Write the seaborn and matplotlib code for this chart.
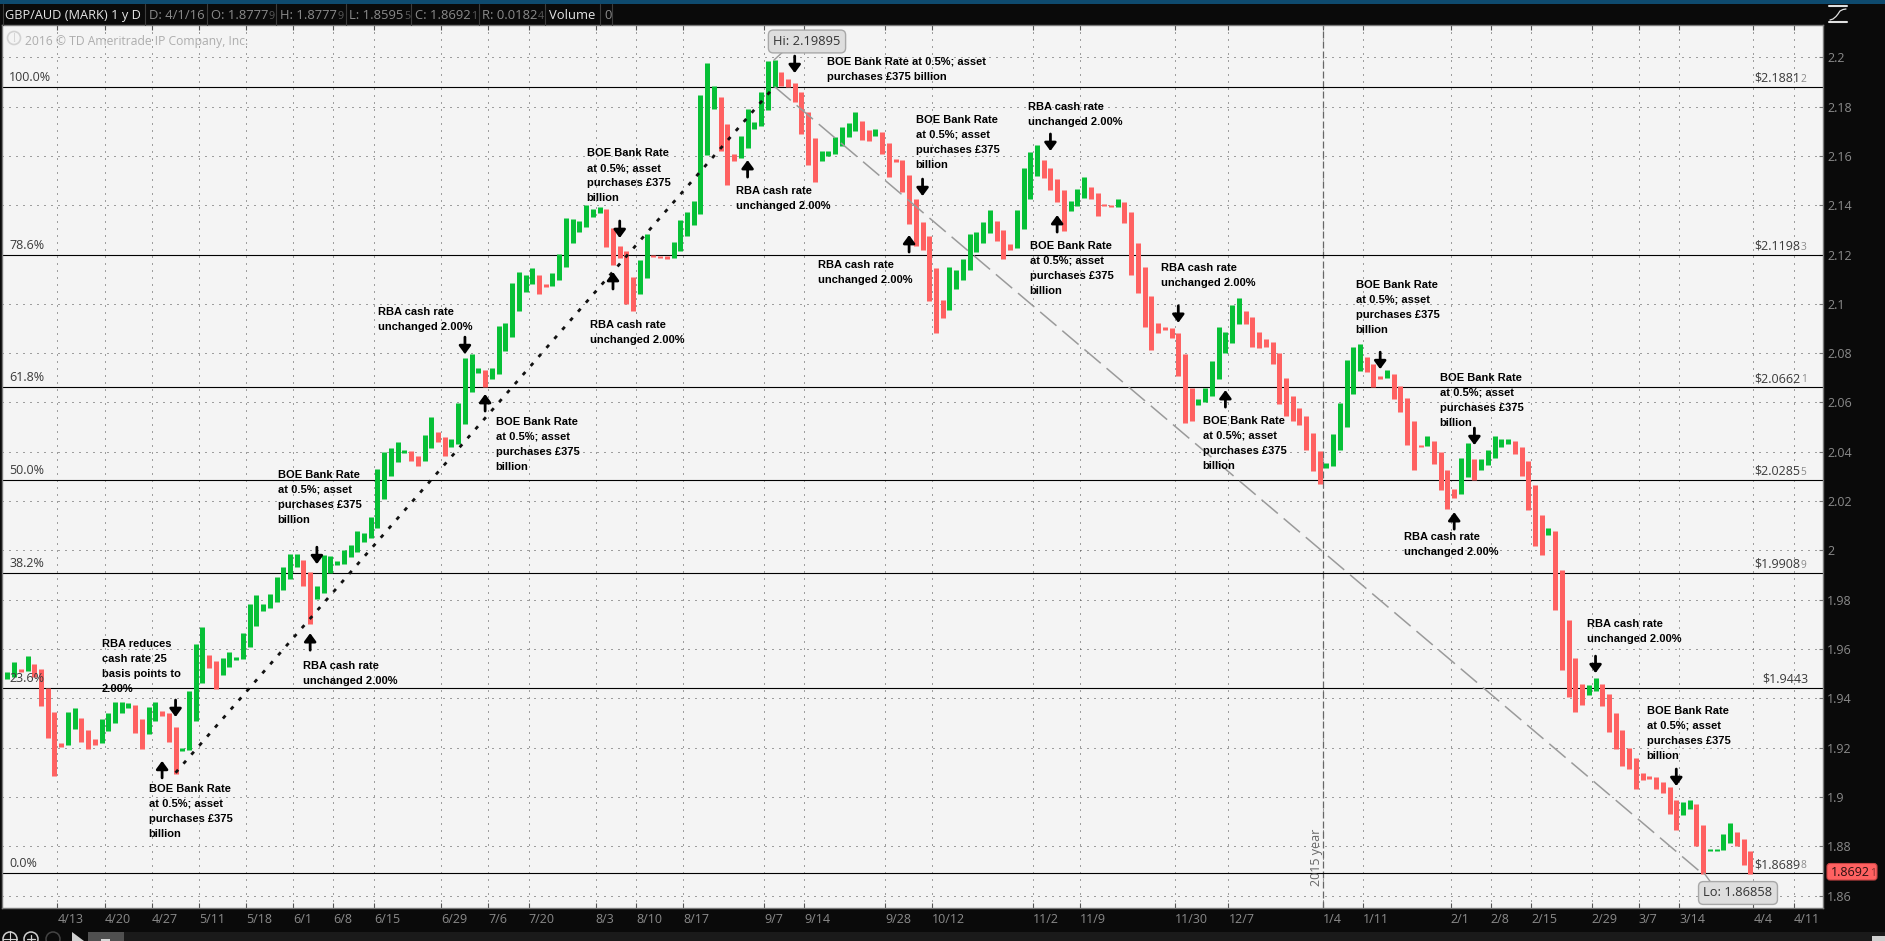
import numpy as np
import pandas as pd
import matplotlib
matplotlib.use('Agg')
import matplotlib.pyplot as plt
from matplotlib.lines import Line2D
from matplotlib.patches import Rectangle, Circle, Polygon, FancyBboxPatch
from matplotlib.transforms import IdentityTransform
import seaborn as sns

W, H = 1885, 941

# daily range bars (GBP/AUD)
bar_tops = [
    1.9508, 1.9547, 1.9518, 1.9571, 1.9541, 1.9518, 1.9443, 1.9344, 1.9218, 1.9344,
    1.9360, 1.9320, 1.9271, 1.9234, 1.9316, 1.9340, 1.9385, 1.9385, 1.9381, 1.9372,
    1.9316, 1.9364, 1.9385, 1.9348, 1.9340, 1.9283, 1.9198, 1.9429, 1.9620, 1.9689,
    1.9575, 1.9551, 1.9563, 1.9587, 1.9567, 1.9665, 1.9782, 1.9819, 1.9782, 1.9823,
    1.9892, 1.9932, 1.9985, 1.9985, 1.9961, 1.9912, 1.9855, 1.9981, 1.9977, 1.9957,
    2.0001, 2.0022, 2.0078, 2.0070, 2.0135, 2.0330, 2.0399, 2.0415, 2.0439, 2.0407,
    2.0403, 2.0383, 2.0468, 2.0541, 2.0480, 2.0460, 2.0452, 2.0598, 2.0780, 2.0796,
    2.0740, 2.0732, 2.0740, 2.0910, 2.0922, 2.1084, 2.1129, 2.1117, 2.1145, 2.1117,
    2.1080, 2.1125, 2.1202, 2.1348, 2.1344, 2.1336, 2.1401, 2.1385, 2.1393, 2.1385,
    2.1308, 2.1235, 2.1214, 2.1109, 2.1178, 2.1283, 2.1197, 2.1195, 2.1194, 2.1251,
    2.1340, 2.1373, 2.1417, 2.1847, 2.1977, 2.1884, 2.1839, 2.1730, 2.1608, 2.1681,
    2.1790, 2.1738, 2.1859, 2.1985, 2.1989, 2.1940, 2.1912, 2.1896, 2.1859, 2.1778,
    2.1673, 2.1620, 2.1620, 2.1677, 2.1717, 2.1734, 2.1778, 2.1742, 2.1705, 2.1709,
    2.1697, 2.1652, 2.1588, 2.1583, 2.1523, 2.1425, 2.1332, 2.1275, 2.1145, 2.1015,
    2.1149, 2.1137, 2.1182, 2.1283, 2.1291, 2.1332, 2.1381, 2.1336, 2.1299, 2.1243,
    2.1381, 2.1551, 2.1616, 2.1644, 2.1583, 2.1551, 2.1506, 2.1462, 2.1417, 2.1466,
    2.1514, 2.1474, 2.1450, 2.1405, 2.1401, 2.1425, 2.1413, 2.1372, 2.1247, 2.1149,
    2.1032, 2.0922, 2.0906, 2.0902, 2.0882, 2.0796, 2.0658, 2.0614, 2.0658, 2.0768,
    2.0906, 2.0886, 2.0995, 2.1024, 2.0971, 2.0947, 2.0886, 2.0857, 2.0845, 2.0800,
    2.0699, 2.0626, 2.0577, 2.0545, 2.0476, 2.0403, 2.0354, 2.0472, 2.0598, 2.0772,
    2.0825, 2.0837, 2.0784, 2.0756, 2.0707, 2.0732, 2.0715, 2.0667, 2.0618, 2.0525,
    2.0427, 2.0464, 2.0443, 2.0399, 2.0326, 2.0249, 2.0374, 2.0435, 2.0370, 2.0370,
    2.0407, 2.0464, 2.0452, 2.0452, 2.0443, 2.0419, 2.0362, 2.0265, 2.0144, 2.0090,
    2.0078, 1.9920, 1.9717, 1.9563, 1.9458, 1.9453, 1.9481, 1.9458, 1.9417, 1.9340,
    1.9271, 1.9197, 1.9157, 1.9096, 1.9084, 1.9080, 1.9060, 1.9039, 1.8987, 1.8979,
    1.8987, 1.8970, 1.8885, 1.8787, 1.8787, 1.8849, 1.8893, 1.8857, 1.8829, 1.8780,
]
bar_bottoms = [
    1.9478, 1.9487, 1.9508, 1.9510, 1.9487, 1.9368, 1.9239, 1.9084, 1.9202, 1.9210,
    1.9275, 1.9222, 1.9194, 1.9210, 1.9218, 1.9267, 1.9299, 1.9340, 1.9360, 1.9259,
    1.9194, 1.9255, 1.9307, 1.9328, 1.9222, 1.9092, 1.9186, 1.9190, 1.9307, 1.9462,
    1.9522, 1.9437, 1.9494, 1.9527, 1.9555, 1.9559, 1.9608, 1.9693, 1.9754, 1.9766,
    1.9790, 1.9839, 1.9884, 1.9932, 1.9855, 1.9701, 1.9802, 1.9827, 1.9908, 1.9940,
    1.9944, 1.9973, 1.9993, 2.0034, 2.0050, 2.0090, 2.0208, 2.0301, 2.0358, 2.0395,
    2.0362, 2.0342, 2.0362, 2.0415, 2.0439, 2.0383, 2.0419, 2.0431, 2.0512, 2.0642,
    2.0719, 2.0661, 2.0695, 2.0715, 2.0809, 2.0865, 2.0971, 2.1048, 2.1080, 2.1040,
    2.1068, 2.1072, 2.1097, 2.1149, 2.1247, 2.1291, 2.1312, 2.1352, 2.1368, 2.1230,
    2.1157, 2.1186, 2.0999, 2.0971, 2.1040, 2.1105, 2.1190, 2.1186, 2.1182, 2.1186,
    2.1214, 2.1275, 2.1320, 2.1364, 2.1604, 2.1790, 2.1620, 2.1482, 2.1579, 2.1592,
    2.1632, 2.1709, 2.1721, 2.1786, 2.1880, 2.1884, 2.1880, 2.1819, 2.1689, 2.1563,
    2.1494, 2.1579, 2.1600, 2.1608, 2.1640, 2.1677, 2.1701, 2.1665, 2.1661, 2.1681,
    2.1608, 2.1514, 2.1575, 2.1454, 2.1324, 2.1235, 2.1218, 2.1011, 2.0882, 2.0942,
    2.0975, 2.1060, 2.1097, 2.1137, 2.1210, 2.1247, 2.1287, 2.1255, 2.1182, 2.1218,
    2.1226, 2.1303, 2.1425, 2.1519, 2.1510, 2.1462, 2.1413, 2.1295, 2.1377, 2.1397,
    2.1429, 2.1425, 2.1356, 2.1397, 2.1393, 2.1393, 2.1328, 2.1117, 2.1044, 2.0906,
    2.0813, 2.0882, 2.0894, 2.0861, 2.0707, 2.0516, 2.0525, 2.0590, 2.0602, 2.0626,
    2.0695, 2.0800, 2.0841, 2.0918, 2.0918, 2.0825, 2.0821, 2.0825, 2.0756, 2.0594,
    2.0545, 2.0525, 2.0508, 2.0407, 2.0322, 2.0269, 2.0334, 2.0342, 2.0407, 2.0500,
    2.0634, 2.0727, 2.0723, 2.0661, 2.0695, 2.0699, 2.0614, 2.0561, 2.0427, 2.0326,
    2.0419, 2.0423, 2.0350, 2.0245, 2.0168, 2.0212, 2.0228, 2.0297, 2.0285, 2.0326,
    2.0346, 2.0374, 2.0419, 2.0431, 2.0391, 2.0302, 2.0163, 2.0018, 1.9981, 2.0062,
    1.9757, 1.9514, 1.9404, 1.9344, 1.9372, 1.9413, 1.9430, 1.9368, 1.9263, 1.9193,
    1.9124, 1.9113, 1.9032, 1.9068, 1.9073, 1.9032, 1.9015, 1.8930, 1.8865, 1.8926,
    1.8951, 1.8800, 1.8686, 1.8780, 1.8780, 1.8784, 1.8812, 1.8800, 1.8723, 1.8689,
]
bar_dirs = (
    "GGRGRRRRRG" "GRRRGGGGGR" "RGGRRRGGGG" "RRGGGGGGGG" "GGGGRRGGGG"
    "GGGGGGGGGG" "RRGGRRGGGG" "GRGGGGGGGR" "RGGGGGGGGR" "RRRRGGRRRG"
    "GGGGGGRRRG" "GGGGGRRRRR" "RGGGGGGRRG" "RRRRRRRRRR" "GGGGGGGRRR"
    "GGGGRRRRGG" "GRRRRGRRRR" "RRRRRRRGGG" "GGGGRRRRRR" "RRRRRRGGGG"
    "GGRRRGRRRR" "RGRRRRGGRG" "GGGGRRRRRG" "RRRRRGGRRR" "RRRRRRRRRG"
    "GRRGGGGRRR"
)

# x axis: label and the bar it sits on
tick_labels = ['4/13', '4/20', '4/27', '5/11', '5/18', '6/1', '6/8', '6/15', '6/29', '7/6', '7/20',
               '8/3', '8/10', '8/17', '9/7', '9/14', '9/28', '10/12', '11/2', '11/9', '11/30', '12/7',
               '1/4', '1/11', '2/1', '2/8', '2/15', '2/29', '3/7', '3/14', '4/4', '4/11']
tick_bars = [7, 14, 21, 28, 35, 42, 48, 54, 64, 71, 77, 87, 93, 100, 112, 118, 130, 137, 152, 159,
             173, 181, 195, 201, 214, 220, 226, 235, 242, 248, 259, 265]
y_ticks = [2.2, 2.18, 2.16, 2.14, 2.12, 2.1, 2.08, 2.06, 2.04, 2.02, 2.0, 1.98, 1.96, 1.94, 1.92, 1.9, 1.88, 1.86]
y_tick_labels = ['2.2', '2.18', '2.16', '2.14', '2.12', '2.1', '2.08', '2.06', '2.04', '2.02', '2',
                 '1.98', '1.96', '1.94', '1.92', '1.9', '1.88', '1.86']

# fibonacci levels
fib_pcts = ['100.0%', '78.6%', '61.8%', '50.0%', '38.2%', '23.6%', '0.0%']
fib_levels = [2.18812, 2.11983, 2.06621, 2.02855, 1.99089, 1.9443, 1.86898]
fib_main = ['$2.1881', '$2.1198', '$2.0662', '$2.0285', '$1.9908', '$1.9443', '$1.8689']
fib_small = ['2', '3', '1', '5', '9', '', '8']

# trend lines between the swing points
up_leg_bars = [25, 114]
up_leg_prices = [1.9098, 2.18812]
down_leg_bars = [114, 252]
down_leg_prices = [2.18812, 1.86858]

# arrows: bar and price at the tip
down_arrow_bars = [25, 46, 68, 91, 117, 136, 155, 174, 204, 218, 236, 248]
down_arrow_tips = [1.9324, 1.9944, 2.0796, 2.1267, 2.1936, 2.1437, 2.1620, 2.0923, 2.0735, 2.0427, 1.9502, 1.9044]
up_arrow_bars = [23, 45, 71, 90, 110, 134, 156, 181, 215]
up_arrow_tips = [1.9146, 1.9664, 2.0634, 2.1129, 2.1583, 2.1279, 2.1360, 2.0650, 2.0155]

BOE = 'BOE Bank Rate\nat 0.5%; asset\npurchases £375\nbillion'
RBA = 'RBA cash rate\nunchanged 2.00%'
notes = [
    (101.7, 644, 'RBA reduces\ncash rate 25\nbasis points to\n2.00%'),
    (148.7, 789, BOE), (277.7, 475, BOE), (302.7, 666, RBA), (378.3, 312.3, RBA),
    (495.7, 422, BOE), (586.7, 153.3, BOE), (589.7, 325, RBA),
    (826.7, 62, 'BOE Bank Rate at 0.5%; asset\npurchases £375 billion'),
    (735.7, 191, RBA), (915.7, 120, BOE), (817.7, 265, RBA), (1027.7, 107, RBA),
    (1029.7, 246, BOE), (1160.7, 268, RBA), (1355.7, 285, BOE), (1202.7, 421, BOE),
    (1439.7, 378, BOE), (1404, 537, RBA), (1586.7, 624.3, RBA), (1646.7, 711, BOE),
]

GREEN = '#06c036'
RED = '#ff6161'
DARK = '#0a0a0a'

sns.set_theme(style='ticks')
plt.rcParams['font.family'] = ['Open Sans', 'DejaVu Sans']

bars = pd.DataFrame({'top': bar_tops, 'bottom': bar_bottoms, 'dir': list(bar_dirs)})
bars['bar'] = bars.index
long_bars = bars.melt(id_vars=['bar', 'dir'], value_vars=['top', 'bottom'], value_name='price')

fig = plt.figure(figsize=(W / 100, H / 100), dpi=100, facecolor=DARK)
ax = fig.add_axes([2 / W, 1 - 908 / H, (1823 - 2) / W, (908 - 25) / H], facecolor='#f4f4f4')


# everything outside the axes is placed in figure pixels
def fx(x):
    return x / W


def fy(y):
    return 1 - y / H


def px_text(x, y, s, **kw):
    return fig.text(fx(x), fy(y), s, parse_math=False, **kw)


def px_line(xs, ys, **kw):
    fig.add_artist(Line2D([fx(x) for x in xs], [fy(y) for y in ys], transform=fig.transFigure, **kw))


def px_rect(x0, y0, x1, y1, **kw):
    fig.add_artist(Rectangle((fx(x0), fy(y1)), (x1 - x0) / W, (y1 - y0) / H, transform=fig.transFigure, lw=0, **kw))


def px_circle(x, y, r, **kw):
    fig.add_artist(Circle((x, H - y), r, transform=IdentityTransform(), fill=False, **kw))


def price_text(x, y, main, small, color, small_color, size=9):
    # last digit of a quote is drawn smaller and dimmer
    t = px_text(x, y, main, color=color, fontsize=size, va='baseline', zorder=6)
    if small:
        box = t.get_window_extent(fig.canvas.get_renderer())
        px_text(box.x1 + 0.5, y, small, color=small_color, fontsize=size * 0.82, va='baseline', zorder=6)


sns.lineplot(data=long_bars, x='bar', y='price', hue='dir', units='bar', estimator=None, sort=False,
             palette={'G': GREEN, 'R': RED}, legend=False, lw=3.59, solid_capstyle='butt',
             zorder=2.5, ax=ax)

for level in fib_levels:
    ax.axhline(level, color='#000000', lw=0.8, zorder=2)

sns.lineplot(x=up_leg_bars, y=up_leg_prices, color='#111111', lw=2.0, ls=(0, (1.4, 2.92)), zorder=3, ax=ax)
sns.lineplot(x=down_leg_bars, y=down_leg_prices, color='#9a9a9a', lw=1.1, ls=(0, (14, 5)), zorder=3, ax=ax)

ax.axvline(195.45, color='#666666', lw=0.9, ls=(0, (5.6, 2.4)), zorder=1.5)

for b, tip in zip(down_arrow_bars, down_arrow_tips):
    ax.annotate('', xy=(b, tip), xytext=(0, 17), textcoords='offset pixels', zorder=5,
                arrowprops=dict(arrowstyle='-|>,head_width=0.25,head_length=0.34', color='black', lw=2.0,
                                mutation_scale=14, shrinkA=0, shrinkB=0))
for b, tip in zip(up_arrow_bars, up_arrow_tips):
    ax.annotate('', xy=(b, tip), xytext=(0, -17), textcoords='offset pixels', zorder=5,
                arrowprops=dict(arrowstyle='-|>,head_width=0.25,head_length=0.34', color='black', lw=2.0,
                                mutation_scale=14, shrinkA=0, shrinkB=0))

# axes
ax.set_xlim(-0.79, 269.8)
ax.set_ylim(1.85493, 2.2131)
ax.set_xlabel('')
ax.set_ylabel('')
ax.set_axisbelow(True)
ax.set_xticks([b + 0.45 for b in tick_bars])
ax.set_xticklabels(tick_labels, ha='left')
ax.yaxis.tick_right()
ax.set_yticks(y_ticks)
ax.set_yticklabels(y_tick_labels)
ax.tick_params(axis='x', direction='in', length=3.6, width=0.8, color='#555555', top=True,
               labelsize=9, labelcolor='#8a8a8a', pad=3.5)
ax.tick_params(axis='y', direction='in', length=3, width=0.8, color='#777777', left=False,
               labelsize=9, labelcolor='#8a8a8a', pad=3)
ax.grid(True, color='#4a4a4a', lw=0.72, ls=(0, (1, 6)))
for side in ax.spines:
    ax.spines[side].set_color('#7a7a7a')
    ax.spines[side].set_linewidth(1.0)
    ax.spines[side].set_visible(True)

# header strip
px_rect(0, 0, W, 3.5, color='#0e4a6e', zorder=1)
for sep in [3, 144.6, 207, 276, 345.5, 411, 478.5, 545, 600, 612]:
    px_line([sep, sep], [4, 25], color='#3d3d3d', lw=0.8)
px_text(5, 19, 'GBP/AUD (MARK) 1 y D', color='#e6e6e6', fontsize=9.2, va='baseline')
px_text(149, 19, 'D: 4/1/16', color='#8a8a8a', fontsize=9.4, va='baseline')
price_text(211, 19, 'O: 1.8777', '9', '#8a8a8a', '#5a5a5a', size=9.4)
price_text(280, 19, 'H: 1.8777', '9', '#8a8a8a', '#5a5a5a', size=9.4)
price_text(349, 19, 'L: 1.8595', '5', '#8a8a8a', '#5a5a5a', size=9.4)
price_text(415, 19, 'C: 1.8692', '1', '#8a8a8a', '#5a5a5a', size=9.4)
price_text(482, 19, 'R: 0.0182', '4', '#8a8a8a', '#5a5a5a', size=9.4)
px_text(549, 19, 'Volume', color='#e6e6e6', fontsize=9.4, va='baseline')
px_text(604, 19, '0', color='#8a8a8a', fontsize=9.4, va='baseline')

# watermark
px_circle(14, 38, 6.5, ec='#d2d2d2', lw=1.2)
px_text(14, 38, '!', color='#d2d2d2', fontsize=8.5, ha='center', va='center')
px_text(25, 41, '2016 © TD Ameritrade IP Company, Inc.', color='#adadad', fontsize=8.7, va='center')

# fib labels
for pct, level, main, small in zip(fib_pcts, fib_levels, fib_main, fib_small):
    line_y = 25 + (2.2131 - level) / (2.2131 - 1.85493) * (908 - 25)
    px_text(9, line_y - 9.5, pct, color='#3a3a3a', fontsize=9, va='center', zorder=6)
    price_text(1762 if not small else 1754, line_y - 5, main, small, '#3a3a3a', '#8a8a8a')

# event notes
for x, y, s in notes:
    px_text(x, y - 5, s, fontfamily='Liberation Sans', fontweight='bold', fontsize=8, color='black',
            va='top', linespacing=1.62, zorder=6)

# hi/lo call-outs
px_line([786, 774], [49, 60], color='#9a9a9a', lw=1.0, zorder=6)
px_text(807, 41.5, 'Hi: 2.19895', color='#333333', fontsize=9.3, ha='center', va='center', zorder=7,
        bbox=dict(boxstyle='round,pad=0.38', fc='#dedede', ec='#a8a8a8', lw=1.0))
px_line([1704, 1712], [873, 884], color='#9a9a9a', lw=1.0, zorder=6)
px_text(1738, 893, 'Lo: 1.86858', color='#333333', fontsize=9.3, ha='center', va='center', zorder=7,
        bbox=dict(boxstyle='round,pad=0.38', fc='#dedede', ec='#a8a8a8', lw=1.0))

# year marker
px_text(1316, 857, '2015 year', color='#666666', fontsize=9, rotation=90, ha='center', va='center', zorder=6)

# last price flag
fig.add_artist(FancyBboxPatch((1827, H - 880), 50, 16.5, boxstyle='round,pad=0,rounding_size=3',
                              fc=RED, ec='#c94545', lw=0.8, transform=IdentityTransform(), zorder=5))
price_text(1831, 876.5, '1.8692', '1', '#2a1010', '#8a3030')

# study icon, top right
px_line([1829, 1847], [5.7, 5.7], color='#e0e0e0', lw=1.5)
px_line([1829, 1847], [22, 22], color='#e0e0e0', lw=1.5)
px_line([1830, 1833, 1836, 1838, 1840, 1843, 1846], [20, 19, 16.5, 14, 11, 9.5, 9], color='#e0e0e0', lw=0.9)

# footer with toolbar
px_rect(124, 932, W, H, color='#1a1a1a', zorder=1)
px_rect(88, 932, 124, H, color='#505050', zorder=1)
px_rect(101, 939, 110, H, color='#d8d8d8', zorder=2)
for cx, col in [(10, '#d0d0d0'), (31, '#d0d0d0'), (53, '#444444')]:
    px_circle(cx, 939, 7, ec=col, lw=1.1)
px_line([10, 10], [931, H], color='#d0d0d0', lw=0.8)
px_line([3, 17], [939, 939], color='#d0d0d0', lw=0.8)
px_line([27, 35], [939, 939], color='#d0d0d0', lw=0.9)
px_line([31, 31], [935, H], color='#d0d0d0', lw=0.9)
fig.add_artist(Polygon([(fx(72), fy(932)), (fx(72), fy(H)), (fx(84), fy(H))], transform=fig.transFigure, color='#d0d0d0', lw=0))
px_rect(1872, 936, 1885, H, color='#cfcfcf', zorder=2)

fig.savefig('out.png', dpi=100, facecolor=DARK)
